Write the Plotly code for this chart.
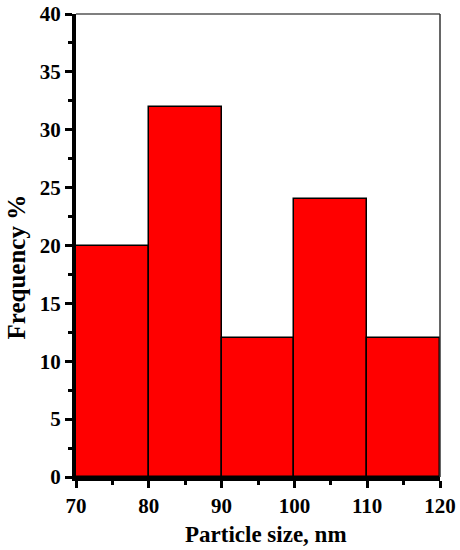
import plotly.graph_objects as go

# histogram bins (nm) and frequency (%)
bin_centers = [75, 85, 95, 105, 115]
frequency = [20, 32, 12, 24, 12]
bin_width = 10
x_ticks = [70, 80, 90, 100, 110, 120]

font = "Liberation Serif, Times New Roman, serif"

fig = go.Figure()
fig.add_trace(
    go.Bar(
        x=bin_centers,
        y=frequency,
        width=bin_width,
        marker=dict(color="#FF0000", line=dict(color="black", width=1.5)),
        showlegend=False,
        hoverinfo="skip",
    )
)

axis_common = dict(
    showline=True,
    linecolor="black",
    linewidth=4,
    ticks="outside",
    ticklen=7,
    tickwidth=3,
    tickcolor="black",
    showgrid=False,
    zeroline=False,
    automargin=False,
    tickfont=dict(family=font, size=21, color="black", weight="bold"),
)
minor_ticks = dict(ticks="outside", ticklen=4, tickwidth=3, tickcolor="black")

fig.update_xaxes(range=[70, 120], tickvals=x_ticks,
                 minor=dict(dtick=5, tick0=70, **minor_ticks), **axis_common)
fig.update_yaxes(range=[0, 40], dtick=5,
                 minor=dict(dtick=2.5, **minor_ticks), **axis_common)

# thin top and right frame lines
fig.add_shape(type="line", xref="paper", yref="paper", x0=0, x1=1, y0=1, y1=1,
              line=dict(color="#555", width=1.5))
fig.add_shape(type="line", xref="paper", yref="paper", x0=1, x1=1, y0=0, y1=1,
              line=dict(color="#333", width=1.5))

# axis titles
fig.add_annotation(text="<b>Particle size, nm</b>", xref="paper", yref="paper",
                   x=0.522, y=-0.125, xanchor="center", yanchor="middle",
                   showarrow=False, font=dict(family=font, size=23, color="black"))
fig.add_annotation(text="<b>Frequency %</b>", xref="paper", yref="paper",
                   x=-0.163, y=0.454, xanchor="center", yanchor="middle",
                   textangle=-90, showarrow=False,
                   font=dict(family=font, size=25, color="black"))

fig.update_layout(
    width=460,
    height=550,
    margin=dict(l=76, r=20, t=14, b=73),
    plot_bgcolor="white",
    paper_bgcolor="white",
    bargap=0,
)

fig.write_html(
    "out.html",
    config={"displayModeBar": False},
    post_script="document.body.style.margin='0';document.body.style.overflow='hidden';",
)
